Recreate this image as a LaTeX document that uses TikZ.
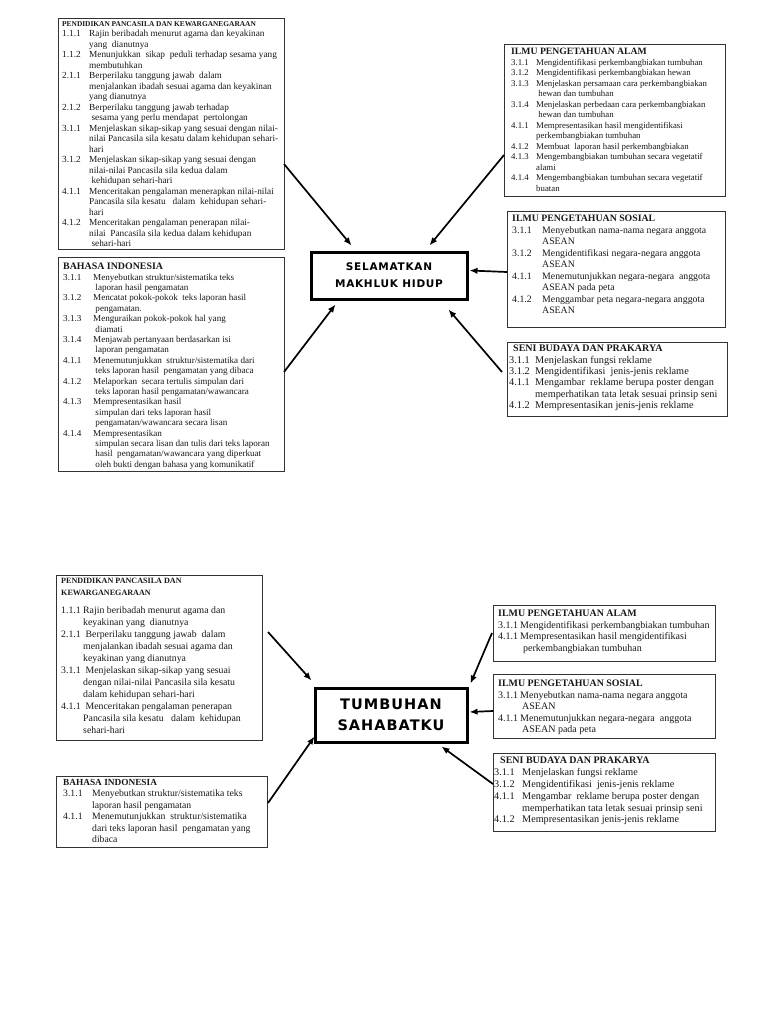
\documentclass[tikz,border=0pt]{standalone}
\usepackage{fontspec}
\setmainfont{Liberation Serif}
\newfontfamily\hubfont[LetterSpace=7]{DejaVu Sans}
\usetikzlibrary{arrows.meta,calc}
\newlength{\numw}
\newcommand{\nm}[1]{\makebox[\numw][l]{#1}}
\newcommand{\ct}{\hspace*{\numw}}
\begin{document}
\begin{tikzpicture}[x=1pt,y=-1pt,
  box/.style={draw=black!80, line width=0.9pt, anchor=north west, inner sep=0pt, outer sep=0pt},
  txt/.style={anchor=north west, inner sep=0pt, align=left, text=black!90},
  hub/.style={draw=black, line width=3pt, inner sep=0pt, align=center},
  arr/.style={line width=1.7pt, -{Latex[length=8pt,width=6.5pt]}}]
\fill[white] (0,0) rectangle (768,1024);
\useasboundingbox (0,0) rectangle (768,1024);

% ---------------- TOP ----------------
\node[box, minimum width=226pt, minimum height=231pt] (ppa) at (58,18) {};
\node[txt, font=\fontsize{9.3}{10.5}\selectfont\setlength{\numw}{27pt}] (ppat) at (62,21) {%
{\fontsize{7.4}{8}\selectfont\bfseries PENDIDIKAN PANCASILA DAN KEWARGANEGARAAN}\\
\nm{1.1.1}Rajin beribadah menurut agama dan keyakinan\\
\ct yang\ \ dianutnya\\
\nm{1.1.2}Menunjukkan\ \ sikap\ \ peduli terhadap sesama yang\\
\ct membutuhkan\\
\nm{2.1.1}Berperilaku tanggung jawab\ \ dalam\\
\ct menjalankan ibadah sesuai agama dan keyakinan\\
\ct yang dianutnya\\
\nm{2.1.2}Berperilaku tanggung jawab terhadap\\
\ct\ sesama yang perlu mendapat\ \ pertolongan\\
\nm{3.1.1}Menjelaskan sikap-sikap yang sesuai dengan nilai-\\
\ct nilai Pancasila sila kesatu dalam kehidupan sehari-\\
\ct hari\\
\nm{3.1.2}Menjelaskan sikap-sikap yang sesuai dengan\\
\ct nilai-nilai Pancasila sila kedua dalam\\
\ct\ kehidupan sehari-hari\\
\nm{4.1.1}Menceritakan pengalaman menerapkan nilai-nilai\\
\ct Pancasila sila kesatu\ \ \ dalam\ \ kehidupan sehari-\\
\ct hari\\
\nm{4.1.2}Menceritakan pengalaman penerapan nilai-\\
\ct nilai\ \ Pancasila sila kedua dalam kehidupan\\
\ct\ sehari-hari};

\node[box, minimum width=226pt, minimum height=214pt] (bia) at (58,257) {};
\node[txt, font=\fontsize{9.1}{10.4}\selectfont\setlength{\numw}{30pt}] (biat) at (63,263) {%
{\fontsize{9.9}{10}\selectfont\bfseries BAHASA INDONESIA}\\
\nm{3.1.1}Menyebutkan struktur/sistematika teks\\
\ct\ laporan hasil pengamatan\\
\nm{3.1.2}Mencatat pokok-pokok\ \ teks laporan hasil\\
\ct\ pengamatan.\\
\nm{3.1.3}Menguraikan pokok-pokok hal yang\\
\ct\ diamati\\
\nm{3.1.4}Menjawab pertanyaan berdasarkan isi\\
\ct\ laporan pengamatan\\
\nm{4.1.1}Menemutunjukkan\ \ struktur/sistematika dari\\
\ct\ teks laporan hasil\ \ pengamatan yang dibaca\\
\nm{4.1.2}Melaporkan\ \ secara tertulis simpulan dari\\
\ct\ teks laporan hasil pengamatan/wawancara\\
\nm{4.1.3}Mempresentasikan hasil\\
\ct\ simpulan dari teks laporan hasil\\
\ct\ pengamatan/wawancara secara lisan\\
\nm{4.1.4}Mempresentasikan\\
\ct\ simpulan secara lisan dan tulis dari teks laporan\\
\ct\ hasil\ \ pengamatan/wawancara yang diperkuat\\
\ct\ oleh bukti dengan bahasa yang komunikatif};

\node[box, minimum width=221pt, minimum height=152pt] (ipa) at (504,44) {};
\node[txt, font=\fontsize{8.8}{10.5}\selectfont\setlength{\numw}{25pt}] (ipat) at (511,48) {%
{\fontsize{9.7}{10}\selectfont\bfseries ILMU PENGETAHUAN ALAM}\\
\nm{3.1.1}Mengidentifikasi perkembangbiakan tumbuhan\\
\nm{3.1.2}Mengidentifikasi perkembangbiakan hewan\\
\nm{3.1.3}Menjelaskan persamaan cara perkembangbiakan\\
\ct\ hewan dan tumbuhan\\
\nm{3.1.4}Menjelaskan perbedaan cara perkembangbiakan\\
\ct\ hewan dan tumbuhan\\
\nm{4.1.1}Mempresentasikan hasil mengidentifikasi\\
\ct perkembangbiakan tumbuhan\\
\nm{4.1.2}Membuat\ \ laporan hasil perkembangbiakan\\
\nm{4.1.3}Mengembangbiakan tumbuhan secara vegetatif\\
\ct alami\\
\nm{4.1.4}Mengembangbiakan tumbuhan secara vegetatif\\
\ct buatan};

\node[box, minimum width=218pt, minimum height=116pt] (ips) at (507,211) {};
\node[txt, font=\fontsize{9.8}{11.5}\selectfont\setlength{\numw}{30pt}] (ipst) at (512,215) {%
{\fontsize{9.8}{10}\selectfont\bfseries ILMU PENGETAHUAN SOSIAL}\\
\nm{3.1.1}Menyebutkan nama-nama negara anggota\\
\ct ASEAN\\
\nm{3.1.2}Mengidentifikasi negara-negara anggota\\
\ct ASEAN\\
\nm{4.1.1}Menemutunjukkan negara-negara\ \ anggota\\
\ct ASEAN pada peta\\
\nm{4.1.2}Menggambar peta negara-negara anggota\\
\ct ASEAN};

\node[box, minimum width=220pt, minimum height=74pt] (sba) at (507,342) {};
\node[txt, font=\fontsize{10.3}{11.3}\selectfont\setlength{\numw}{26pt}] (sbat) at (509,345) {%
\hspace*{4pt}{\fontsize{10}{10}\selectfont\bfseries SENI BUDAYA DAN PRAKARYA}\\
\nm{3.1.1}Menjelaskan fungsi reklame\\
\nm{3.1.2}Mengidentifikasi\ \ jenis-jenis reklame\\
\nm{4.1.1}Mengambar\ \ reklame berupa poster dengan\\
\ct memperhatikan tata letak sesuai prinsip seni\\
\nm{4.1.2}Mempresentasikan jenis-jenis reklame};

\node[hub, minimum width=156pt, minimum height=47pt, font=\hubfont\bfseries\fontsize{10.5}{17}\selectfont] (hubA) at (389,275.5) {SELAMATKAN\\MAKHLUK HIDUP};

\draw[arr] ($(ppa.north east)+(0,146)$) -- ($(hubA.north west)+(42,-5)$);
\draw[arr] ($(ipa.north west)+(0,111)$) -- ($(hubA.north west)+(120,-5)$);
\draw[arr] ($(ips.north west)+(0,61)$) -- ($(hubA.north east)+(1,20)$);
\draw[arr] ($(bia.north east)+(0,115)$) -- ($(hubA.south west)+(26,4)$);
\draw[arr] ($(sba.north west)+(-5,30)$) -- ($(hubA.south east)+(-20,9)$);

% ---------------- BOTTOM ----------------
\node[box, minimum width=206pt, minimum height=165pt] (ppb) at (56,575) {};
\node[txt, font=\fontsize{9.8}{12}\selectfont\setlength{\numw}{22pt}] (ppbt) at (61,578) {%
{\fontsize{8.1}{9.5}\selectfont\bfseries PENDIDIKAN PANCASILA DAN}\\[-0.5pt]
{\fontsize{8.1}{9.5}\selectfont\bfseries KEWARGANEGARAAN}\\[6pt]
\nm{1.1.1}Rajin beribadah menurut agama dan\\
\ct keyakinan yang\ \ dianutnya\\
\nm{2.1.1}\ Berperilaku tanggung jawab\ \ dalam\\
\ct menjalankan ibadah sesuai agama dan\\
\ct keyakinan yang dianutnya\\
\nm{3.1.1}\ Menjelaskan sikap-sikap yang sesuai\\
\ct dengan nilai-nilai Pancasila sila kesatu\\
\ct dalam kehidupan sehari-hari\\
\nm{4.1.1}\ Menceritakan pengalaman penerapan\\
\ct Pancasila sila kesatu\ \ \ dalam\ \ kehidupan\\
\ct sehari-hari};

\node[box, minimum width=211pt, minimum height=71pt] (bib) at (56,776) {};
\node[txt, font=\fontsize{9.7}{11.5}\selectfont\setlength{\numw}{29pt}] (bibt) at (63,779) {%
{\fontsize{9.3}{10}\selectfont\bfseries BAHASA INDONESIA}\\
\nm{3.1.1}Menyebutkan struktur/sistematika teks\\
\ct laporan hasil pengamatan\\
\nm{4.1.1}Menemutunjukkan\ \ struktur/sistematika\\
\ct dari teks laporan hasil\ \ pengamatan yang\\
\ct dibaca};

\node[box, minimum width=222pt, minimum height=56pt] (ipb) at (493,605) {};
\node[txt, font=\fontsize{10}{11.5}\selectfont\setlength{\numw}{22pt}] (ipbt) at (498,610) {%
{\fontsize{9.9}{10}\selectfont\bfseries ILMU PENGETAHUAN ALAM}\\
\nm{3.1.1}Mengidentifikasi perkembangbiakan tumbuhan\\
\nm{4.1.1}Mempresentasikan hasil mengidentifikasi\\
\ct\hspace*{3pt}perkembangbiakan tumbuhan};

\node[box, minimum width=222pt, minimum height=64pt] (ipsb) at (493,674) {};
\node[txt, font=\fontsize{10}{11.5}\selectfont\setlength{\numw}{22pt}] (ipsbt) at (498,680) {%
{\fontsize{9.9}{10}\selectfont\bfseries ILMU PENGETAHUAN SOSIAL}\\
\nm{3.1.1}Menyebutkan nama-nama negara anggota\\
\ct\hspace*{2pt}ASEAN\\
\nm{4.1.1}Menemutunjukkan negara-negara\ \ anggota\\
\ct\hspace*{2pt}ASEAN pada peta};

\node[box, minimum width=222pt, minimum height=78pt] (sbb) at (493,753) {};
\node[txt, font=\fontsize{10.2}{11.8}\selectfont\setlength{\numw}{28pt}] (sbbt) at (494,757) {%
\hspace*{6pt}{\fontsize{10}{10}\selectfont\bfseries SENI BUDAYA DAN PRAKARYA}\\
\nm{3.1.1}Menjelaskan fungsi reklame\\
\nm{3.1.2}Mengidentifikasi\ \ jenis-jenis reklame\\
\nm{4.1.1}Mengambar\ \ reklame berupa poster dengan\\
\ct memperhatikan tata letak sesuai prinsip seni\\
\nm{4.1.2}Mempresentasikan jenis-jenis reklame};

\node[hub, minimum width=152pt, minimum height=54pt, font=\hubfont\bfseries\fontsize{14.5}{21}\selectfont] (hubB) at (391,715) {TUMBUHAN\\SAHABATKU};

\draw[arr] ($(ppb.north east)+(6,57)$) -- ($(hubB.north west)+(-2,-6)$);
\draw[arr] ($(bib.north east)+(1,27)$) -- ($(hubB.south west)+(1,-7)$);
\draw[arr] ($(ipb.north west)+(-1,28)$) -- ($(hubB.north east)+(2,-3)$);
\draw[arr] ($(ipsb.north west)+(0,37)$) -- ($(hubB.east)+(1,-3)$);
\draw[arr] ($(sbb.north west)+(0,31)$) -- ($(hubB.south east)+(-27,3)$);
\end{tikzpicture}
\end{document}
